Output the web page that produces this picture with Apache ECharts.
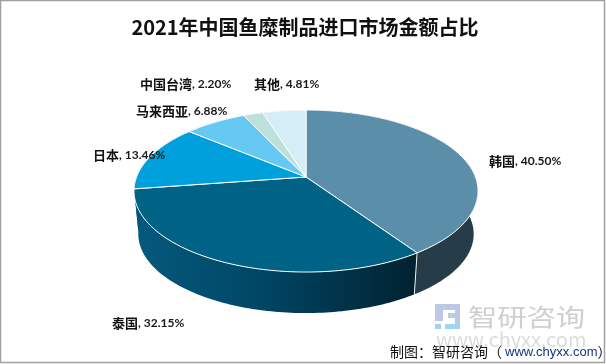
<!DOCTYPE html>
<html><head><meta charset="utf-8">
<style>html,body{margin:0;padding:0;background:#fff}#c{width:606px;height:364px}</style>
<script src="https://cdn.jsdelivr.net/npm/echarts@6/dist/echarts.min.js"></script>
</head><body><div id="c"></div>
<script>
const categories = ['韩国','泰国','日本','马来西亚','中国台湾','其他'];
const shares = [40.50,32.15,13.46,6.88,2.20,4.81];
const topColors = ['#5b8ea8','#006285','#00a0dc','#65c9f3','#bde0dc','#d5edf6'];
const wallColors = ['#263d49','#005a7e','#00567a','#2f7c9c','#5f8a88','#6d8a96'];
const labelAnchors = [[489,161],[112,323],[93,155],[136,111],[140,84],[254,84]];
const titleText = '2021年中国鱼糜制品进口市场金额占比';
const CX=306,CY=177,A=169.4,B=78.6,P=0.1729,S=0.975,DY=43.4;
const total = shares.reduce((a,b)=>a+b,0);
function proj(t){const u=Math.sin(t),v=-Math.cos(t),d=1-P*v;return [CX+A*u/d,CY+B*v/d];}
function low(p){return [CX+S*(p[0]-CX),CY+DY+S*(p[1]-CY)];}
function arc(a,b){const n=Math.max(4,Math.ceil((b-a)/0.02)),r=[];for(let i=0;i<=n;i++)r.push(proj(a+(b-a)*i/n));return r;}
function renderItem(params,api){
  const idx=params.dataIndex,val=api.value(0);
  let before=0;for(let i=0;i<idx;i++)before+=shares[i];
  const a=before/total*2*Math.PI,b=(before+val)/total*2*Math.PI;
  const pts=arc(a,b);
  const wall=pts.concat(pts.slice().reverse().map(low));
  let fill=wallColors[idx];
  if(idx===1)fill=new echarts.graphic.LinearGradient(134,0,416,0,[
    {offset:0,color:'#05597d'},{offset:.45,color:'#004665'},{offset:1,color:'#00222f'}],true);
  const lab=labelAnchors[idx];
  const kids=[
    {type:'polygon',z2:1,shape:{points:wall},style:{fill:fill,stroke:null}},
    {type:'polygon',z2:3,shape:{points:[[CX,CY]].concat(pts)},style:{fill:topColors[idx],stroke:'#ffffff',lineWidth:1}},
    {type:'text',z2:4,x:lab[0],y:lab[1],style:{
      text:'{n|'+categories[idx]+'}{v|, '+val.toFixed(2)+'%}',verticalAlign:'middle',
      rich:{n:{font:'bold 13px "Noto Sans CJK SC"',fill:'#111'},v:{font:'bold 12px Lato',fill:'#1a1a1a'}}}}
  ];
  if(idx===1){const p=pts[0],q=low(p);
    kids.push({type:'line',z2:2,shape:{x1:p[0],y1:p[1],x2:q[0],y2:q[1]},style:{stroke:'#e8eef0',lineWidth:1}});}
  return {type:'group',children:kids};
}
const chart=echarts.init(document.getElementById('c'),null,{renderer:'canvas'});
chart.setOption({
  animation:false,backgroundColor:'#fff',
  title:{text:titleText,left:300,top:12,textAlign:'center',
    textStyle:{fontFamily:'"Noto Sans CJK SC"',fontSize:20,fontWeight:'bold',color:'#111'}},
  series:[{type:'custom',coordinateSystem:'none',renderItem:renderItem,
    data:shares.map((v,i)=>({name:categories[i],value:[v]}))}],
  graphic:[
    {type:'rect',z:-1,shape:{x:0.5,y:0.5,width:604,height:362},style:{fill:'none',stroke:'#a0a0a0',lineWidth:1.5}},
    {type:'text',x:468,y:317,scaleX:1.22,z:5,style:{text:'智研咨询',verticalAlign:'middle',font:'24px "Noto Sans CJK SC"',fill:'#cdcfd2'}},
    {type:'group',z:5,children:[
      {type:'rect',shape:{x:435,y:304,width:25,height:6},style:{fill:'#bcc8e4'}},
      {type:'rect',shape:{x:435,y:310,width:8,height:11},style:{fill:'#bcc8e4'}},
      {type:'rect',shape:{x:448,y:313,width:12,height:5},style:{fill:'#bcc8e4'}},
      {type:'rect',shape:{x:455,y:310,width:5,height:14},style:{fill:'#bcc8e4'}},
      {type:'rect',shape:{x:435,y:324,width:6,height:5},style:{fill:'#9fd5ee'}},
      {type:'rect',shape:{x:445,y:324,width:15,height:5},style:{fill:'#9fd5ee'}}]},
    {type:'text',x:436,y:339,z:5,style:{text:'www.chyxx.com',verticalAlign:'middle',font:'20px "Noto Sans CJK SC"',fill:'#dcdcdc'}},
    {type:'text',x:390,y:352,z:6,style:{
      text:'{a|制图：智研咨询（}{b|www.chyxx.com}{a|）}',verticalAlign:'middle',
      rich:{a:{font:'14px "Noto Sans CJK SC"',fill:'#111'},b:{font:'13px "Liberation Sans"',fill:'#12357f',padding:[0,0,0,3]}}}}
  ]
});
</script></body></html>
